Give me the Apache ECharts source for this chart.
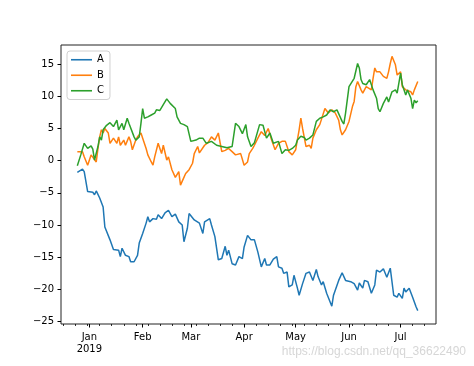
<!DOCTYPE html>
<html>
<head>
<meta charset="utf-8">
<script src="https://cdn.jsdelivr.net/npm/echarts@6/dist/echarts.min.js"></script>
<style>
  html, body { margin: 0; padding: 0; background: #fff; }
  #chart { width: 474px; height: 366px; }
</style>
</head>
<body>
<div id="chart"></div>
<script>
// [day since 2019-01-01, value]
var seriesA = [
  [-7,-1.8],[-4,-1.3],[-3,-1.7],[-1,-4.8],[0,-5.1],[2,-4.9],[3,-5.3],[4,-4.7],[6,-5.8],[8,-7.2],
  [9,-10.3],[10,-10.5],[12,-12.3],[14,-13.8],[15,-14.0],[17,-13.9],[18,-14.9],[19,-13.6],[21,-14.7],[23,-14.9],
  [24,-15.7],[26,-15.7],[28,-14.7],[29,-12.8],[31,-11.3],[32,-11.6],[33,-9.7],[34,-8.7],[35,-9.5],[37,-9.0],
  [39,-9.1],[40,-8.4],[42,-9.0],[44,-8.1],[46,-7.7],[48,-8.7],[50,-8.3],[52,-9.5],[54,-10.0],[55,-12.6],
  [57,-10.5],[58,-8.2],[61,-9.2],[64,-9.7],[66,-11.3],[67,-9.5],[70,-9.0],[71,-10.0],[73,-11.8],[75,-15.4],
  [77,-15.2],[79,-13.3],[80,-14.7],[81,-13.9],[83,-16.0],[85,-16.2],[87,-14.9],[89,-15.2],[90,-13.4],[92,-11.6],
  [94,-12.3],[96,-12.3],[98,-14.2],[100,-16.5],[102,-15.2],[103,-16.2],[105,-16.2],[107,-15.3],[109,-14.9],[110,-16.5],
  [112,-16.7],[113,-17.5],[115,-17.3],[116,-19.6],[118,-19.3],[119,-17.8],[121,-19.8],[122,-20.9],[124,-19.1],[126,-17.5],
  [128,-17.3],[130,-18.6],[132,-16.9],[133,-18.0],[135,-19.3],[136,-18.8],[138,-20.6],[139,-20.9],[141,-22.6],[142,-20.9],
  [143,-21.0],[145,-18.6],[147,-17.4],[149,-18.6],[152,-18.8],[154,-19.1],[156,-20.1],[157,-19.0],[159,-19.8],[160,-18.6],
  [162,-18.8],[164,-20.6],[166,-19.3],[167,-17.0],[169,-17.3],[171,-16.8],[173,-18.1],[175,-16.7],[177,-20.9],[179,-21.2],
  [180,-20.6],[182,-21.4],[183,-19.8],[184,-20.4],[186,-19.8],[187,-20.1],[188,-21.2],[190,-22.7],[191,-23.3]
];
var seriesB = [
  [-7,1.4],[-6,1.1],[-4,1.4],[-3,0.6],[-2,0.9],[-1,-0.7],[1,0.9],[2,1.1],[4,-0.2],[5,1.9],
  [6,3.7],[7,4.8],[8,4.3],[9,5.0],[11,4.3],[12,2.7],[14,3.5],[16,2.7],[17,3.7],[18,2.4],
  [20,3.2],[21,2.4],[23,3.7],[24,3.0],[25,1.7],[27,3.2],[28,3.7],[30,4.3],[31,3.5],[33,1.9],
  [34,0.9],[36,-0.2],[37,-0.7],[38,0.6],[40,2.7],[41,1.9],[42,1.1],[43,2.4],[45,0.1],[46,0.6],
  [48,-1.4],[49,-1.2],[50,-2.6],[52,-1.7],[53,-3.8],[55,-2.6],[56,-2.0],[58,-1.4],[60,-0.4],[61,1.1],
  [63,2.2],[64,1.2],[67,2.4],[69,2.8],[71,3.7],[73,3.2],[75,4.3],[77,1.4],[79,1.6],[81,1.9],
  [83,1.4],[85,0.9],[88,1.1],[90,-0.7],[92,-0.2],[93,1.1],[95,1.9],[96,2.4],[98,3.5],[100,4.5],
  [102,3.9],[104,5.0],[106,3.2],[108,1.7],[110,2.7],[112,3.0],[114,3.0],[116,1.4],[118,0.9],[120,1.7],
  [122,4.8],[123,6.6],[124,5.0],[126,2.2],[128,2.4],[129,1.9],[130,3.5],[132,4.8],[134,5.6],[137,8.1],
  [139,7.4],[141,7.9],[143,7.4],[145,6.3],[146,4.8],[147,4.0],[149,4.8],[151,6.1],[153,8.4],[154,9.2],
  [155,11.5],[156,12.3],[158,11.0],[159,10.5],[161,11.5],[164,11.0],[165,12.8],[166,14.4],[167,13.8],[169,13.8],
  [171,13.1],[173,12.8],[174,13.8],[175,15.1],[176,16.2],[178,14.9],[179,13.3],[181,13.8],[182,11.5],[184,11.0],
  [185,10.7],[187,10.7],[188,10.2],[189,11.0],[190,11.3],[191,12.3]
];
var seriesC = [
  [-7,-0.8],[-5,0.9],[-3,2.7],[-2,2.6],[-1,1.9],[1,2.3],[2,1.8],[3,0.1],[5,2.2],[6,3.7],
  [7,3.2],[8,4.8],[10,5.5],[11,5.3],[12,5.9],[14,5.3],[16,6.3],[17,4.8],[19,5.8],[20,4.8],
  [22,6.6],[23,5.8],[26,3.7],[27,3.2],[29,3.7],[30,5.8],[31,8.1],[32,6.6],[34,6.8],[36,7.1],
  [38,7.4],[39,7.9],[41,7.8],[43,8.7],[45,9.6],[47,8.9],[48,9.2],[50,8.1],[51,6.8],[53,5.8],
  [55,5.6],[57,5.3],[59,3.0],[60,2.7],[62,3.2],[64,3.5],[66,3.5],[68,2.7],[71,3.0],[74,2.4],
  [77,2.2],[80,2.0],[83,2.2],[85,5.8],[87,5.3],[89,4.2],[91,5.6],[92,3.7],[94,2.2],[96,2.8],
  [97,2.5],[99,5.6],[101,5.5],[103,3.5],[105,4.3],[107,2.7],[110,3.0],[112,1.1],[114,1.7],[116,1.6],
  [118,1.9],[120,2.4],[121,3.2],[123,3.8],[125,3.6],[126,3.2],[128,3.5],[130,4.0],[132,6.1],[134,6.6],
  [136,6.8],[138,7.1],[140,7.9],[142,7.6],[144,7.9],[145,7.6],[147,6.1],[148,5.7],[149,7.4],[151,11.5],
  [152,11.3],[154,12.8],[156,15.1],[157,14.4],[158,12.6],[159,12.0],[161,11.8],[163,12.6],[165,11.0],[167,9.7],
  [168,8.1],[169,7.6],[171,8.9],[173,9.9],[174,9.1],[176,10.7],[178,11.0],[179,10.5],[181,13.6],[182,11.8],
  [184,10.2],[185,11.0],[187,9.7],[188,8.1],[189,9.4],[190,9.0],[191,9.3]
];
var seriesNames = ['A', 'B', 'C'];
var colors = ['#1f77b4', '#ff7f0e', '#2ca02c'];

// x ticks: month starts (major) and Mondays (minor)
var monthTicks = ['2019-01-01','2019-02-01','2019-03-01','2019-04-01','2019-05-01','2019-06-01','2019-07-01'];
var monthLabels = ['Jan\n2019','Feb','Mar','Apr','May','Jun','Jul'];
var yTicks = [-25, -20, -15, -10, -5, 0, 5, 10, 15];

var DAY = 864e5;
function dayToTime(d) { return new Date(2019, 0, 1).getTime() + d * DAY; }
function strToTime(s) { var p = s.split('-'); return new Date(+p[0], +p[1] - 1, +p[2]).getTime(); }

var xMin = dayToTime(-16.5), xMax = dayToTime(201.6);
var majorTimes = monthTicks.map(strToTime);
var minorTimes = [];
for (var t = new Date(2018, 11, 17); t.getTime() <= xMax; t = new Date(t.getFullYear(), t.getMonth(), t.getDate() + 7)) {
  minorTimes.push(t.getTime());
}

var chart = echarts.init(document.getElementById('chart'));
var font = 'DejaVu Sans';

var allSeries = [seriesA, seriesB, seriesC].map(function (s, i) {
  return {
    name: seriesNames[i],
    type: 'line',
    xAxisIndex: 0,
    showSymbol: false,
    symbol: 'none',
    lineStyle: { width: 1.5, color: colors[i] },
    itemStyle: { color: colors[i] },
    data: s.map(function (p) { return [dayToTime(p[0]), p[1]]; })
  };
});

var option = {
  animation: false,
  backgroundColor: '#fff',
  grid: {
    left: 61, top: 45, right: 38, bottom: 42,
    show: true, borderColor: '#222', borderWidth: 1, backgroundColor: '#fff'
  },
  legend: {
    orient: 'vertical',
    left: 67, top: 51,
    data: seriesNames,
    icon: 'rect',
    itemWidth: 21, itemHeight: 1.6,
    itemGap: 4,
    padding: [3, 6, 3, 4],
    borderColor: '#d0d0d0', borderWidth: 1, borderRadius: 3,
    backgroundColor: 'rgba(255,255,255,0.8)',
    textStyle: { fontFamily: font, fontSize: 10, color: '#000', lineHeight: 11.5 }
  },
  xAxis: [{
    type: 'value',
    min: xMin, max: xMax,
    splitLine: { show: false },
    axisLine: { show: false, onZero: false },
    axisTick: { show: true, inside: false, length: 3.5, customValues: majorTimes, lineStyle: { color: '#000', width: 1 } },
    axisLabel: {
      customValues: majorTimes,
      margin: 7, fontFamily: font, fontSize: 10, color: '#000', lineHeight: 12,
      formatter: function (v) {
        var i = majorTimes.indexOf(v);
        return i >= 0 ? monthLabels[i] : '';
      }
    }
  }, {
    type: 'value',
    min: xMin, max: xMax,
    position: 'bottom',
    splitLine: { show: false },
    axisLine: { show: false, onZero: false },
    axisLabel: { show: false },
    axisTick: { show: true, inside: false, length: 2, customValues: minorTimes, lineStyle: { color: '#000', width: 0.8 } }
  }],
  yAxis: {
    type: 'value',
    min: -25.37, max: 17.97,
    splitLine: { show: false },
    axisLine: { show: false },
    axisTick: { show: true, inside: false, length: 3.5, customValues: yTicks, lineStyle: { color: '#000', width: 1 } },
    axisLabel: {
      customValues: yTicks,
      margin: 7, fontFamily: font, fontSize: 10, color: '#000',
      formatter: function (v) { return v < 0 ? '\u2212' + (-v) : String(v); }
    }
  },
  graphic: [{
    type: 'text',
    right: 8, bottom: 8,
    style: {
      text: 'https://blog.csdn.net/qq_36622490',
      fontFamily: 'Liberation Sans', fontSize: 12,
      fill: 'rgba(200,200,200,0.75)'
    }
  }],
  series: allSeries
};

chart.setOption(option);
</script>
</body>
</html>
